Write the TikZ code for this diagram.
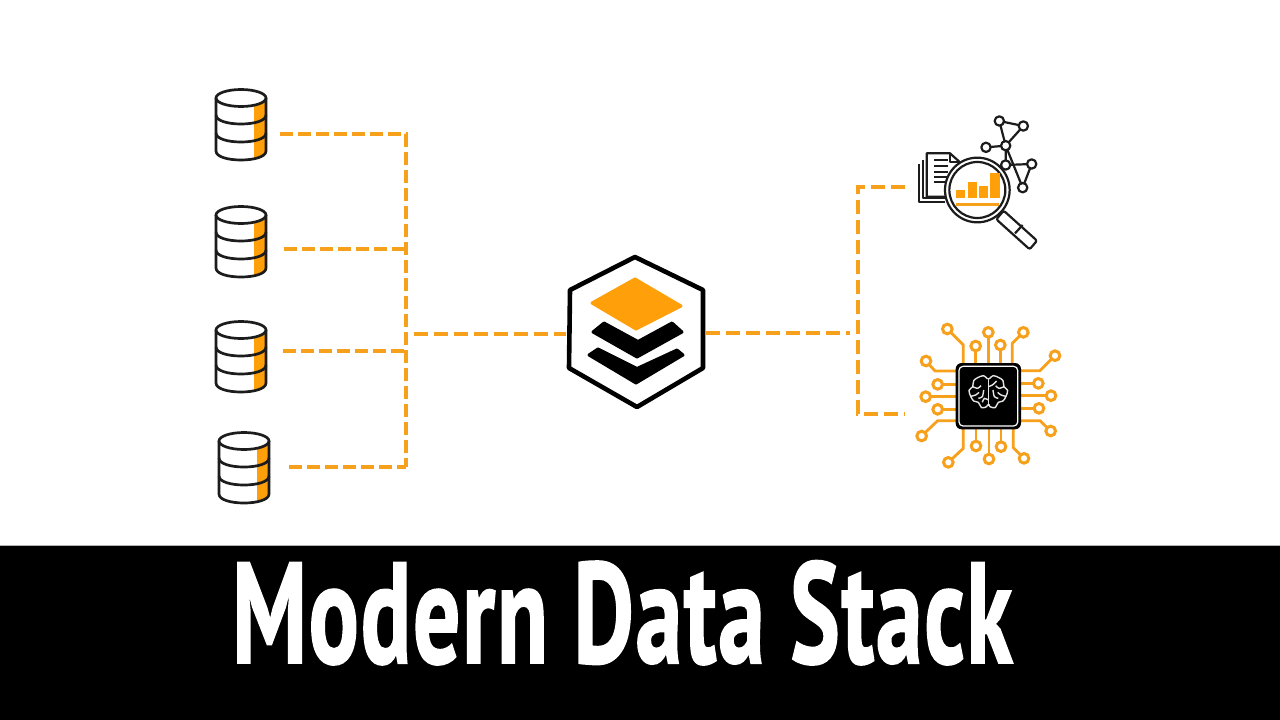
\documentclass[tikz,border=0pt]{standalone}
\usepackage{fontspec}
\newfontfamily\titlefont[FakeBold=1.5,LetterSpace=2]{PT Sans Bold}
\usetikzlibrary{calc}
\definecolor{amber}{HTML}{F7A01C}
\definecolor{amberfill}{HTML}{FF9F0A}
\definecolor{ink}{HTML}{1C1C1C}
\tikzset{
  link/.style={draw=amber,line width=3.3pt,dash pattern=on 14pt off 6pt},
  linkthin/.style={draw=amber,line width=3.1pt,dash pattern=on 13pt off 5pt},
  dbline/.style={draw=ink,line width=2.7pt},
  icon/.style={draw=ink,line width=2.2pt,line join=round},
  trace/.style={draw=amber,line width=2.8pt,line join=round},
  pad/.style={draw=amber,line width=3pt,fill=white},
  gnode/.style={icon,fill=white},
  dbicon/.pic={
    \fill[white] (-25,0) -- (-25,53) .. controls (-25,65) and (25,65) .. (25,53) -- (25,0) -- cycle;
    \begin{scope}
      \clip (13,-3) rectangle (25,66);
      \fill[amberfill] (-25,0) .. controls (-25,12) and (25,12) .. (25,0) -- (25,53) .. controls (25,65) and (-25,65) .. (-25,53) -- cycle;
    \end{scope}
    \draw[dbline] (0,0) ellipse [x radius=25pt,y radius=8.5pt];
    \draw[dbline] (-25,0) -- (-25,53) .. controls (-25,65) and (25,65) .. (25,53) -- (25,0);
    \draw[dbline] (-25,17) .. controls (-25,29) and (25,29) .. (25,17);
    \draw[dbline] (-25,35) .. controls (-25,47) and (25,47) .. (25,35);
  }
}
\begin{document}
\begin{tikzpicture}[x=1pt,y=-1pt]
\useasboundingbox (0,0) rectangle (1280,720);
\fill[white] (0,0) rectangle (1280,720);
\fill[black] (0,545) rectangle (1280,720);
\draw[gray!60,line width=.8pt] (0,545) -- (1280,545);
\node[anchor=south west,inner sep=0,text=white] (title) at (232,665)
  {\resizebox{780pt}{102pt}{\titlefont Modern Data Stack}};

% databases
\pic at (241,98) {dbicon};
\pic at (241,215) {dbicon};
\pic at (241,330) {dbicon};
\pic at (244,441) {dbicon};

% connector anchors
\coordinate (s1) at (280,134);
\coordinate (s2) at (284,249);
\coordinate (s3) at (283,351);
\coordinate (s4) at (289,467);
\coordinate (c1) at (406,134);
\coordinate (c2) at (406,249);
\coordinate (c3) at (406,351);
\coordinate (c4) at (406,467);
\coordinate (busout) at (414,334);
\coordinate (hubin) at (566,334);
\coordinate (hubout) at (706,333);
\coordinate (rbus) at (850,333);
\coordinate (a1) at (858,187);
\coordinate (a2) at (858,414);
\coordinate (t1) at (905,187);
\coordinate (t2) at (905,414);

\draw[linkthin] (s1) -- (c1) -- (c4);
\draw[linkthin] (s4) -- (c4);
\draw[linkthin] (s2) -- (c2);
\draw[linkthin] (s3) -- (c3);
\draw[link] (busout) -- (hubin);
\draw[link] (hubout) -- (rbus);
\draw[link] (t1) -- (a1) -- (a2) -- (t2);

% hub
\draw[draw=black,line width=4.6pt,line join=round,fill=white]
  (635,257) -- (703,290) -- (703,368) -- (637,407) -- (569,368) -- (570,290) -- cycle;
\fill[amberfill,draw=amberfill,line width=3pt,line join=round]
  (592,303) -- (635,279) -- (681,306) -- (636,329) -- cycle;
\fill[black,draw=black,line width=3pt,line join=round]
  (593,332) -- (604,323) -- (638,341.5) -- (672,323) -- (682,332) -- (637,357) -- cycle;
\fill[black,draw=black,line width=3pt,line join=round]
  (589,355) -- (598,349) -- (637,368.5) -- (677,350) -- (683,355) -- (636,383) -- cycle;

% analytics icon (drawn in 3x crop units)
\begin{scope}[shift={(900,105)},scale=1/3]
  \draw[icon] (317,122) -- (298,48) -- (370,63) -- cycle;
  \draw[icon] (317,122) -- (258,127);
  \draw[icon] (317,122) -- (317,180) -- (395,177) -- (368,248) -- cycle;
  \foreach \p in {(298,48),(370,63),(317,122),(258,127),(317,180),(395,177),(368,248)}
    \filldraw[gnode] \p circle (14);
  \draw[icon] (57,178) -- (57,290) -- (135,290);
  \draw[icon] (68,165) -- (68,280) -- (135,280);
  \draw[icon,fill=white] (80,145) -- (150,145) -- (178,170) -- (178,275) -- (80,275) -- cycle;
  \draw[icon] (150,145) -- (150,170) -- (178,170);
  \foreach \yy in {165,183,200,215,230} \draw[icon] (102,\yy) -- (145,\yy);
  \draw[icon,fill=white,rounded corners=2pt] (311,317) -- (411,407) -- (389,433) -- (289,343) -- cycle;
  \draw[icon] (345,385) -- (368,360);
  \filldraw[icon,fill=white] (232,255) circle (97);
  \draw[icon] (232,255) circle (84);
  \fill[amberfill] (167,255) rectangle (195,280);
  \fill[amberfill] (203,232) rectangle (232,280);
  \fill[amberfill] (237,242) rectangle (265,280);
  \fill[amberfill] (270,205) rectangle (300,280);
  \draw[amber,line width=2.6pt] (167,298) -- (298,298);
\end{scope}

% AI chip (drawn in 3x crop units)
\begin{scope}[shift={(905,315)},scale=1/3]
  \draw[trace] (127,42) -- (175,90) -- (175,150);
  \draw[trace] (212,93) -- (212,150);
  \draw[trace] (250,52) -- (250,150);
  \draw[trace] (286,90) -- (286,150);
  \draw[trace] (355,52) -- (322,85) -- (322,150);
  \draw[trace] (450,122) -- (405,167) -- (340,167);
  \draw[trace] (400,205) -- (340,205);
  \draw[trace] (438,242) -- (340,242);
  \draw[trace] (402,280) -- (340,280);
  \draw[trace] (437,348) -- (405,317) -- (340,317);
  \draw[trace] (63,138) -- (90,168) -- (160,168);
  \draw[trace] (98,208) -- (160,208);
  \draw[trace] (62,245) -- (160,245);
  \draw[trace] (98,283) -- (160,283);
  \draw[trace] (50,363) -- (98,317) -- (160,317);
  \draw[trace] (130,442) -- (175,400) -- (175,335);
  \draw[trace] (213,393) -- (213,335);
  \draw[trace] (252,432) -- (252,335);
  \draw[trace] (288,395) -- (288,335);
  \draw[trace] (357,430) -- (325,398) -- (325,335);
  \foreach \p in {(127,42),(212,93),(250,52),(286,90),(355,52),(450,122),(400,205),(438,242),(402,280),(437,348),(63,138),(98,208),(62,245),(98,283),(50,363),(130,442),(213,393),(252,432),(288,395),(357,430)}
    \filldraw[pad] \p circle (14.5);
  \fill[black,rounded corners=6pt] (152,144) rectangle (348,343);
  \draw[white,line width=1.2pt,rounded corners=4pt] (162,154) rectangle (338,333);
  \begin{scope}[draw=white!90!black,line width=1.4pt,line join=round]
    \draw plot[smooth] coordinates {(248,192) (235,182) (218,188) (206,197) (203,215) (192,226) (197,244) (206,258) (220,262) (230,278) (245,275) (248,268)};
    \draw plot[smooth] coordinates {(252,192) (265,182) (282,188) (294,197) (297,215) (308,226) (303,244) (294,258) (280,262) (270,278) (255,275) (252,268)};
    \draw (250,190) -- (250,272);
    \draw plot[smooth] coordinates {(203,215) (218,220) (228,212)};
    \draw plot[smooth] coordinates {(197,244) (212,240) (222,232)};
    \draw plot[smooth] coordinates {(236,225) (232,245) (220,250)};
    \draw plot[smooth] coordinates {(297,215) (282,220) (272,212)};
    \draw plot[smooth] coordinates {(303,244) (288,240) (278,232)};
    \draw plot[smooth] coordinates {(264,225) (268,245) (280,250)};
    \draw plot[smooth] coordinates {(250,215) (262,210) (275,198)};
    \draw plot[smooth] coordinates {(250,255) (238,250) (232,262)};
  \end{scope}
\end{scope}
\end{tikzpicture}
\end{document}
